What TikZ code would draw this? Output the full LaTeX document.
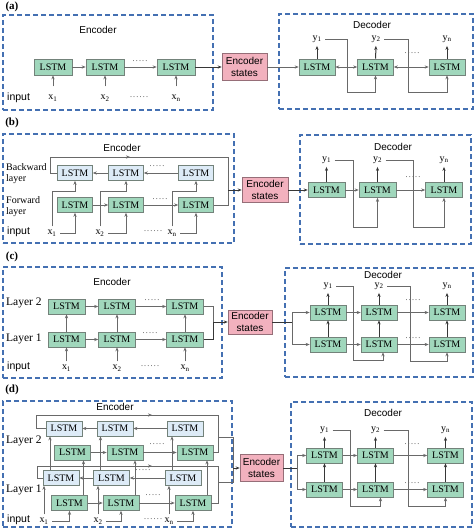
\documentclass[tikz,border=0pt]{standalone}
\usepackage{fontspec}
\setmainfont{Liberation Serif}
\setsansfont{Liberation Sans}
\usetikzlibrary{arrows.meta,calc}
\definecolor{lgreen}{RGB}{160,215,188}
\definecolor{lblue}{RGB}{221,235,247}
\definecolor{lpink}{RGB}{242,177,190}
\definecolor{pinkb}{RGB}{150,110,120}
\definecolor{boxgray}{RGB}{115,130,122}
\definecolor{dblue}{RGB}{68,112,178}
\definecolor{agray}{RGB}{105,105,105}
\definecolor{dgray}{RGB}{55,55,55}
\newcommand{\mydots}{.\kern1.2pt.\kern1.2pt.\kern1.2pt.\kern1.2pt.}
\newcommand{\mydotsx}{.\kern1.2pt.\kern1.2pt.\kern1.2pt.\kern1.2pt.\kern1.2pt.}
\tikzset{
 lstm/.style={draw=boxgray, fill=lgreen, minimum width=36pt, minimum height=15pt, inner sep=0pt, line width=0.6pt, font=\fontsize{10}{12}\selectfont},
 blstm/.style={lstm, fill=lblue},
 encst/.style={draw=pinkb, fill=lpink, minimum width=45pt, minimum height=27pt, inner sep=0pt, line width=0.6pt, align=center, font=\sffamily\fontsize{10}{11.5}\selectfont},
 dbox/.style={draw=dblue, dash pattern=on 5pt off 3pt, line width=1.2pt, inner sep=0pt},
 arr/.style={draw=agray, line width=0.7pt, -{Stealth[length=4pt,width=3.2pt]}},
 arrtwo/.style={draw=agray, line width=0.7pt, {Stealth[length=4pt,width=3.2pt]}-{Stealth[length=4pt,width=3.2pt]}},
 ln/.style={draw=agray, line width=0.7pt},
 darr/.style={draw=dgray, line width=1pt, -{Stealth[length=4pt,width=3.2pt]}},
 dln/.style={draw=dgray, line width=1pt},
 sf/.style={font=\sffamily\fontsize{10}{12}\selectfont},
 rm/.style={font=\fontsize{10}{12}\selectfont},
 lay/.style={font=\fontsize{11.5}{13}\selectfont, anchor=west, inner sep=0pt},
 lay2/.style={font=\fontsize{10}{11}\selectfont, anchor=west, align=left, inner sep=0pt},
 inp/.style={font=\sffamily\fontsize{10.5}{12}\selectfont, anchor=west, inner sep=0pt},
 tag/.style={font=\bfseries\fontsize{11}{12}\selectfont},
 dots/.style={font=\fontsize{8}{9}\selectfont, inner sep=0pt, text=dgray},
}
\begin{document}
\begin{tikzpicture}[x=1pt,y=-1pt]
\useasboundingbox[fill=white] (0,0) rectangle (474,531);

%% ================= (a) =================
\node[tag] (ta) at (12,7) {(a)};
\node[dbox, minimum width=210pt, minimum height=95pt] (EA) at (108,62.5) {};
\node[sf] (EAl) at (98,30) {Encoder};
\node[lstm, minimum width=38pt, minimum height=16pt] (a1) at (53,67) {LSTM};
\node[lstm, minimum width=38pt, minimum height=16pt] (a2) at (105,67) {LSTM};
\node[lstm, minimum width=38pt, minimum height=16pt] (a3) at (176,67) {LSTM};
\node[dots] (ad1) at (140,61) {\mydots};
\node[inp] (ain) at (7,98) {input};
\node[rm] (ax1) at (53,98) {x\textsubscript{1}};
\node[rm] (ax2) at (105,98) {x\textsubscript{2}};
\node[dots] (axd) at (139,97) {\mydotsx};
\node[rm] (axn) at (176,98) {x\textsubscript{n}};
\draw[arr] ([yshift=5pt]ax1.north) -- (a1);
\draw[arr] ([yshift=5pt]ax2.north) -- (a2);
\draw[arr] ([yshift=5pt]axn.north) -- (a3);
\draw[arr] (a1) -- (a2);
\draw[arr] (a2) -- (a3);
\node[encst] (esA) at (244.5,67) {Encoder\\states};
\draw[darr] (a3) -- (esA);
\node[dbox, minimum width=194pt, minimum height=95pt] (DA) at (376,61.5) {};
\node[sf] (DAl) at (372,25) {Decoder};
\node[lstm, minimum height=16pt] (da1) at (317,67) {LSTM};
\node[lstm, minimum height=16pt] (da2) at (375.5,67) {LSTM};
\node[lstm, minimum height=16pt] (da3) at (447,67) {LSTM};
\node[rm] (ya1) at (317,39) {y\textsubscript{1}};
\node[rm] (ya2) at (376,39) {y\textsubscript{2}};
\node[rm] (yan) at (447,39) {y\textsubscript{n}};
\node[dots] (add) at (412,53) {\mydots};
\draw[arr] (esA) -- (da1);
\draw[arrtwo] (da1) -- (da2);
\draw[arrtwo] (da2) -- (da3);
\draw[darr] (da1) -- (ya1);
\draw[darr] (da2) -- (ya2);
\draw[darr] (da3) -- (yan);
\draw[arr] (ya1.east) -| (347,92) -| (da2.south);
\draw[arr] (ya2.east) -| (408,92) -| (da3.south);

%% ================= (b) =================
\node[tag] (tb) at (12,123) {(b)};
\node[dbox, minimum width=231pt, minimum height=109pt] (EB) at (118.5,188.5) {};
\node[sf] (EBl) at (122,148) {Encoder};
\node[lay2] (bwl) at (6,173.5) {Backward\\layer};
\node[lay2] (fwl) at (6,206.5) {Forward\\layer};
\node[blstm, minimum width=35pt] (b1) at (75,173) {LSTM};
\node[blstm, minimum width=35pt] (b2) at (126,173) {LSTM};
\node[blstm, minimum width=35pt] (b3) at (196,173) {LSTM};
\node[lstm, minimum width=35pt] (f1) at (75,205) {LSTM};
\node[lstm, minimum width=35pt] (f2) at (126,205) {LSTM};
\node[lstm, minimum width=35pt] (f3) at (196,205) {LSTM};
\node[dots] (bd1) at (157,166) {\mydots};
\node[dots] (bd2) at (160,199) {\mydots};
\node[inp] (bin) at (7,232) {input};
\node[rm] (xb1) at (52,233) {x\textsubscript{1}};
\node[rm] (xb2) at (100,233) {x\textsubscript{2}};
\node[dots] (xbd) at (153,231) {\mydotsx};
\node[rm] (xbn) at (172,233) {x\textsubscript{n}};
\draw[arr] (f1) -- (f2);
\draw[arr] (f2) -- (f3);
\draw[arr] (b2) -- (b1);
\draw[arr] (b3) -- (b2);
\draw[ln] (b1.west) -| (50,157) -- (228,157) |- (f3.east);
\draw[arr] (50,157) -- (130,157);
\draw[arr] (xb1.north) |- (75,191) -- (b1.south);
\draw[arr] (xb1.east) -| (f1.south);
\draw[arr] (xb2.north) |- (126,191) -- (b2.south);
\draw[arr] (xb2.east) -| (f2.south);
\draw[arr] (xbn.north) |- (196,191) -- (b3.south);
\draw[arr] (xbn.east) -| (f3.south);
\node[encst, minimum width=46pt, minimum height=25pt] (esB) at (265,190) {Encoder\\states};
\coordinate (jb) at (228,190);
\draw[darr] (jb) -- (esB);
\node[dbox, minimum width=171pt, minimum height=109pt] (DB) at (385.5,189.5) {};
\node[sf] (DBl) at (393,147) {Decoder};
\node[lstm, minimum width=37pt] (db1) at (326.5,190) {LSTM};
\node[lstm, minimum width=37pt] (db2) at (377.5,190) {LSTM};
\node[lstm, minimum width=37pt] (db3) at (444,190) {LSTM};
\node[rm] (yb1) at (326.5,160) {y\textsubscript{1}};
\node[rm] (yb2) at (377.5,160) {y\textsubscript{2}};
\node[rm] (ybn) at (444,160) {y\textsubscript{n}};
\node[dots] (dbd) at (413,177) {\mydots};
\draw[darr] (esB) -- (db1);
\draw[arr] (db1) -- (db2);
\draw[arr] (db2) -- (db3);
\draw[darr] (db1) -- (yb1);
\draw[darr] (db2) -- (yb2);
\draw[darr] (db3) -- (ybn);
\draw[arr] (yb1.east) -| (353,227) -| (db2.south);
\draw[arr] (yb2.east) -| (413,227) -| (db3.south);

%% ================= (c) =================
\node[tag] (tc) at (12,257) {(c)};
\node[dbox, minimum width=219pt, minimum height=111pt] (EC) at (112.5,322.5) {};
\node[sf] (ECl) at (112,282) {Encoder};
\node[lay] (cl2) at (6,303) {Layer 2};
\node[lay] (cl1) at (6,339) {Layer 1};
\node[lstm, minimum width=37pt] (c21) at (66.5,306.5) {LSTM};
\node[lstm, minimum width=37pt] (c22) at (117,306.5) {LSTM};
\node[lstm, minimum width=37pt] (c23) at (185,306.5) {LSTM};
\node[lstm, minimum width=37pt] (c11) at (66.5,339.5) {LSTM};
\node[lstm, minimum width=37pt] (c12) at (117,339.5) {LSTM};
\node[lstm, minimum width=37pt] (c13) at (185,339.5) {LSTM};
\node[dots] (cd2) at (152,300) {\mydots};
\node[dots] (cd1) at (150,333) {\mydots};
\node[inp] (cin) at (7,367) {input};
\node[rm] (xc1) at (66.5,368) {x\textsubscript{1}};
\node[rm] (xc2) at (117,368) {x\textsubscript{2}};
\node[dots] (xcd) at (150,366) {\mydotsx};
\node[rm] (xcn) at (185,368) {x\textsubscript{n}};
\draw[arr] (xc1) -- (c11);
\draw[arr] (xc2) -- (c12);
\draw[arr] (xcn) -- (c13);
\draw[arr] (c11) -- (c21);
\draw[arr] (c12) -- (c22);
\draw[arr] (c13) -- (c23);
\draw[arr] (c21) -- (c22);
\draw[arr] (c22) -- (c23);
\draw[arr] (c11) -- (c12);
\draw[arr] (c12) -- (c13);
\draw[ln] (c23.east) -| (213,322);
\draw[dln] (c13.east) -| (213,322);
\coordinate (jc) at (213,322);
\node[encst, minimum width=44pt, minimum height=24pt] (esC) at (250,322) {Encoder\\states};
\draw[darr] (jc) -- (esC);
\node[dbox, minimum width=188pt, minimum height=109pt] (DC) at (379,322.5) {};
\node[sf] (DCl) at (383,275) {Decoder};
\node[lstm] (dct1) at (328,312.5) {LSTM};
\node[lstm] (dct2) at (379,312.5) {LSTM};
\node[lstm] (dct3) at (447,312.5) {LSTM};
\node[lstm] (dcb1) at (328,344.5) {LSTM};
\node[lstm] (dcb2) at (379,344.5) {LSTM};
\node[lstm] (dcb3) at (447,344.5) {LSTM};
\node[rm] (yc1) at (328,286) {y\textsubscript{1}};
\node[rm] (yc2) at (379,286) {y\textsubscript{2}};
\node[rm] (ycn) at (447,286) {y\textsubscript{n}};
\node[dots] (dcd1) at (413,300) {\mydots};
\node[dots] (dcd2) at (413,338) {\mydots};
\coordinate (sc) at (292,322);
\draw[dln] (esC) -- (sc);
\draw[arr] (sc) |- (dct1.west);
\draw[arr] (sc) |- (dcb1.west);
\draw[darr] (dcb1) -- (dct1);
\draw[darr] (dcb2) -- (dct2);
\draw[darr] (dcb3) -- (dct3);
\draw[darr] (dct1) -- (yc1);
\draw[darr] (dct2) -- (yc2);
\draw[darr] (dct3) -- (ycn);
\draw[arr] (dct1) -- (dct2);
\draw[arr] (dct2) -- (dct3);
\draw[arr] (dcb1) -- (dcb2);
\draw[arr] (dcb2) -- (dcb3);
\draw[arr] (yc1.east) -| (353,360) -| ([xshift=4pt]dcb2.south);
\draw[arr] (yc2.east) -| (410,361) -| (dcb3.south);

%% ================= (d) =================
\node[tag] (td) at (12,390) {(d)};
\node[dbox, minimum width=229pt, minimum height=126pt] (ED) at (117.5,464) {};
\node[sf] (EDl) at (115,407) {Encoder};
\node[lay] (dl2) at (6,441) {Layer 2};
\node[lay] (dl1) at (6,490) {Layer 1};
\node[blstm] (bu1) at (64,428.5) {LSTM};
\node[blstm] (bu2) at (115,428.5) {LSTM};
\node[blstm] (bu3) at (185,428.5) {LSTM};
\node[lstm] (gu1) at (72.5,452.5) {LSTM};
\node[lstm] (gu2) at (125,452.5) {LSTM};
\node[lstm] (gu3) at (195,452.5) {LSTM};
\node[blstm] (bl1) at (61,478) {LSTM};
\node[blstm] (bl2) at (111.5,478) {LSTM};
\node[blstm] (bl3) at (183,478) {LSTM};
\node[lstm] (gl1) at (69.5,503) {LSTM};
\node[lstm] (gl2) at (121,503) {LSTM};
\node[lstm] (gl3) at (193,503) {LSTM};
\node[dots] (ddu) at (157,444) {\mydots};
\node[dots] (ddm) at (143,470) {\mydots};
\node[dots] (ddl) at (153,495) {\mydots};
\node[inp] (din) at (7,520) {input};
\node[rm] (xd1) at (44,521) {x\textsubscript{1}};
\node[rm] (xd2) at (98,521) {x\textsubscript{2}};
\node[dots] (xdd) at (153,519) {\mydotsx};
\node[rm] (xdn) at (169,521) {x\textsubscript{n}};
% top feedback lines
\draw[ln] (bu1.west) -| (36,415) -- (218,415) |- (gu3.east);
\draw[arr] (36,415) -- (152,415);
\draw[ln] (bl1.west) -| (37,466) -- (218,466) |- (gl3.east);
\draw[arr] (37,466) -- (152,466);
\draw[ln] (218,437) -| (233,468);
\draw[ln] (218,482) -| (233,468);
% horizontal arrows
\draw[arr] (bu2) -- (bu1);
\draw[arr] (bu3) -- (bu2);
\draw[arr] (gu1) -- (gu2);
\draw[arr] (gu2) -- (gu3);
\draw[arr] (bl2) -- (bl1);
\draw[arr] (bl3) -- (bl2);
\draw[arr] (gl1) -- (gl2);
\draw[arr] (gl2) -- (gl3);
% inputs
\draw[arr] (xd1.north) -- (xd1.north |- bl1.south);
\draw[arr] (xd1.east) -| (gl1.south);
\draw[arr] (xd2.north) -- (xd2.north |- bl2.south);
\draw[arr] (xd2.east) -| (gl2.south);
\draw[arr] (xdn.north) -- (xdn.north |- bl3.south);
\draw[arr] (xdn.east) -| (gl3.south);
% layer 1 -> layer 2
\draw[arr] ([xshift=-11pt]bl1.north) -- ([xshift=-11pt]bl1.north |- bu1.south);
\draw[arr] ([xshift=-11pt]bl2.north) -- ([xshift=-11pt]bl2.north |- bu2.south);
\draw[arr] ([xshift=-11pt]bl3.north) -- ([xshift=-11pt]bl3.north |- bu3.south);
\draw[arr] ([xshift=14pt]gl1.north) -- ([xshift=14pt]gl1.north |- gu1.south);
\draw[arr] ([xshift=14pt]gl2.north) -- ([xshift=14pt]gl2.north |- gu2.south);
\draw[arr] ([xshift=14pt]gl3.north) -- ([xshift=14pt]gl3.north |- gu3.south);
\node[encst, minimum width=43pt] (esD) at (261.5,468) {Encoder\\states};
\coordinate (jd) at (233,468);
\draw[darr] (jd) -- (esD);
\node[dbox, minimum width=181pt, minimum height=125pt] (DD) at (381.5,464.5) {};
\node[sf] (DDl) at (383,413) {Decoder};
\node[lstm] (ddt1) at (324.5,455.5) {LSTM};
\node[lstm] (ddt2) at (375.5,455.5) {LSTM};
\node[lstm] (ddt3) at (445.5,455.5) {LSTM};
\node[lstm] (ddb1) at (324.5,489.5) {LSTM};
\node[lstm] (ddb2) at (375.5,489.5) {LSTM};
\node[lstm] (ddb3) at (445.5,489.5) {LSTM};
\node[rm] (yd1) at (324.5,430) {y\textsubscript{1}};
\node[rm] (yd2) at (375.5,430) {y\textsubscript{2}};
\node[rm] (ydn) at (445.5,430) {y\textsubscript{n}};
\node[dots] (ddd1) at (412,444) {\mydots};
\node[dots] (ddd2) at (412,483) {\mydots};
\coordinate (sd) at (297,468);
\draw[dln] (esD) -- (sd);
\draw[arr] (sd) |- (ddt1.west);
\draw[arr] (sd) |- (ddb1.west);
\draw[darr] (ddb1) -- (ddt1);
\draw[darr] (ddb2) -- (ddt2);
\draw[darr] (ddb3) -- (ddt3);
\draw[darr] (ddt1) -- (yd1);
\draw[darr] (ddt2) -- (yd2);
\draw[darr] (ddt3) -- (ydn);
\draw[arr] (ddt1) -- (ddt2);
\draw[arr] (ddt2) -- (ddt3);
\draw[arr] (ddb1) -- (ddb2);
\draw[arr] (ddb2) -- (ddb3);
\draw[arr] (yd1.east) -| (350,506) -| ([xshift=5pt]ddb2.south);
\draw[arr] (yd2.east) -| (408,506) -| (ddb3.south);
\end{tikzpicture}
\end{document}
